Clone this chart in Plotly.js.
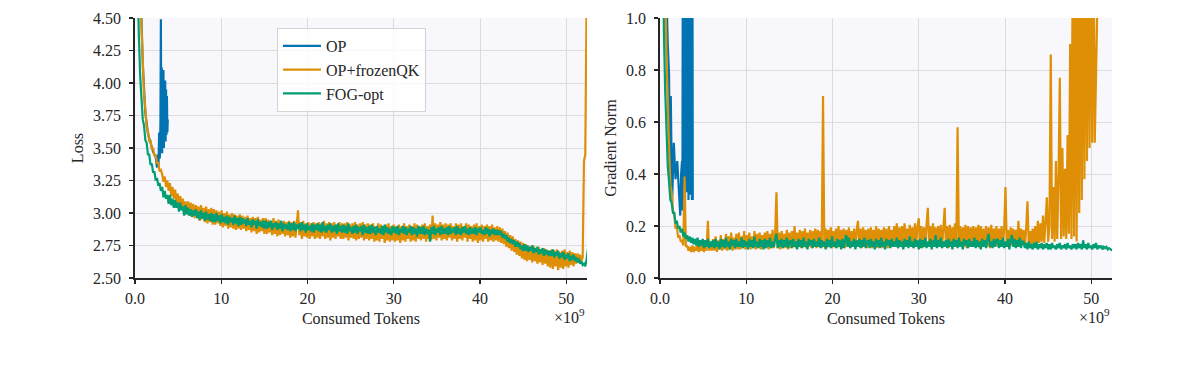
<!DOCTYPE html>
<html><head><meta charset="utf-8">
<script src="https://cdn.plot.ly/plotly-3.0.1.min.js"></script>
<style>html,body{margin:0;padding:0;background:#fff}#chart{width:1200px;height:368px}</style>
</head><body><div id="chart"></div>
<script>
// Consumed tokens (units of 1e9): sampling grid of the logged runs
const TOKENS_START = 0.15;
const TOKENS_STEP = 0.15;

const seriesNames = ["OP", "OP+frozenQK", "FOG-opt"];

// ---- Loss ----
const opLossTokens = [0.3, 0.6, 0.9, 1.2, 1.5, 1.8, 2.1, 2.4, 2.55, 2.65, 2.72, 2.8, 2.88, 2.95, 3.0, 3.05, 3.1, 3.15, 3.2, 3.25, 3.3, 3.35, 3.4, 3.45, 3.5, 3.55, 3.6, 3.65, 3.7, 3.75, 3.8];
const opLoss = [5.5, 4.8, 4.15, 3.77, 3.61, 3.54, 3.47, 3.43, 3.35, 3.45, 3.36, 3.62, 3.42, 3.7, 4.49, 3.5, 4.12, 3.46, 4.05, 3.52, 4.1, 3.5, 3.98, 3.56, 4.02, 3.55, 3.95, 3.6, 3.9, 3.62, 3.72];

const frozenLoss = [
  6.00, 5.50, 5.10, 4.80, 4.45, 4.17, 3.90, 3.80, 3.66, 3.63, 3.55, 3.56, 3.49, 3.50, 3.44, 3.45, 3.38, 3.39, 3.32, 3.33,
  3.30, 3.24, 3.28, 3.20, 3.25, 3.17, 3.23, 3.13, 3.20, 3.11, 3.18, 3.08, 3.15, 3.05, 3.13, 3.03, 3.11, 3.00, 3.09, 2.99,
  3.09, 2.98, 3.08, 2.97, 3.07, 2.96, 3.06, 2.97, 3.05, 2.94, 3.06, 2.95, 3.04, 2.93, 3.05, 2.92, 3.03, 2.93, 3.04, 2.91,
  3.03, 2.91, 3.02, 2.92, 3.01, 2.90, 3.02, 2.89, 3.00, 2.90, 3.01, 2.88, 2.99, 2.89, 3.00, 2.88, 2.99, 2.87, 2.98, 2.88,
  2.99, 2.87, 2.98, 2.88, 2.97, 2.86, 2.98, 2.87, 2.96, 2.85, 2.97, 2.86, 2.96, 2.84, 2.97, 2.85, 2.95, 2.86, 2.96, 2.84,
  2.96, 2.84, 2.95, 2.85, 2.94, 2.83, 2.96, 2.84, 2.94, 2.82, 2.95, 2.83, 2.93, 2.84, 2.94, 2.82, 2.93, 2.83, 2.94, 2.81,
  2.93, 2.82, 2.94, 2.81, 2.92, 3.02, 2.83, 2.93, 2.80, 2.94, 2.82, 2.92, 2.81, 2.93, 2.80, 2.92, 2.82, 2.93, 2.80, 2.92,
  2.81, 2.93, 2.80, 2.92, 2.82, 2.94, 2.80, 2.92, 2.81, 2.93, 2.79, 2.92, 2.81, 2.93, 2.80, 2.91, 2.82, 2.93, 2.80, 2.92,
  2.80, 2.92, 2.81, 2.93, 2.79, 2.91, 2.81, 2.92, 2.80, 2.93, 2.79, 2.91, 2.80, 2.92, 2.81, 2.93, 2.79, 2.91, 2.80, 2.92,
  2.79, 2.91, 2.80, 2.92, 2.78, 2.90, 2.79, 2.92, 2.78, 2.91, 2.80, 2.90, 2.77, 2.91, 2.79, 2.92, 2.78, 2.90, 2.79, 2.91,
  2.78, 2.90, 2.79, 2.91, 2.77, 2.90, 2.79, 2.92, 2.78, 2.90, 2.80, 2.91, 2.78, 2.90, 2.79, 2.92, 2.78, 2.91, 2.80, 2.90,
  2.79, 2.91, 2.80, 2.92, 2.78, 2.90, 2.80, 2.91, 2.79, 2.98, 2.80, 2.92, 2.79, 2.91, 2.81, 2.93, 2.79, 2.91, 2.80, 2.92,
  2.79, 2.91, 2.81, 2.92, 2.79, 2.90, 2.80, 2.92, 2.78, 2.91, 2.80, 2.92, 2.79, 2.90, 2.81, 2.92, 2.78, 2.91, 2.80, 2.90,
  2.78, 2.91, 2.79, 2.92, 2.77, 2.90, 2.79, 2.91, 2.78, 2.90, 2.80, 2.91, 2.78, 2.90, 2.79, 2.91, 2.78, 2.89, 2.79, 2.90,
  2.78, 2.89, 2.77, 2.88, 2.76, 2.86, 2.74, 2.85, 2.73, 2.83, 2.71, 2.82, 2.70, 2.80, 2.68, 2.79, 2.67, 2.78, 2.65, 2.77,
  2.64, 2.76, 2.63, 2.75, 2.64, 2.74, 2.62, 2.75, 2.63, 2.73, 2.61, 2.74, 2.62, 2.72, 2.60, 2.73, 2.61, 2.72, 2.59, 2.71,
  2.58, 2.72, 2.57, 2.71, 2.59, 2.72, 2.56, 2.70, 2.58, 2.71, 2.57, 2.72, 2.59, 2.70, 2.58, 2.71, 2.60, 2.70, 2.59, 2.69,
  2.61, 2.69, 2.62, 2.68, 2.63, 2.66, 3.40, 3.45, 4.60, 5.50
];

const fogLoss = [
  5.20, 4.70, 4.36, 4.05, 3.90, 3.72, 3.67, 3.56, 3.54, 3.45, 3.45, 3.37, 3.38, 3.31, 3.32, 3.25, 3.27, 3.21, 3.23, 3.17,
  3.20, 3.12, 3.17, 3.11, 3.14, 3.07, 3.14, 3.06, 3.11, 3.04, 3.10, 3.04, 3.08, 3.01, 3.08, 3.02, 3.05, 2.98, 3.06, 2.99,
  3.04, 2.98, 3.03, 2.97, 3.02, 2.98, 3.03, 2.96, 3.01, 2.95, 3.02, 2.96, 3.00, 2.94, 3.01, 2.95, 2.99, 2.94, 3.00, 2.93,
  2.99, 2.93, 3.00, 2.94, 2.98, 2.92, 2.99, 2.93, 2.97, 2.92, 2.98, 2.91, 2.97, 2.93, 2.96, 2.91, 2.98, 2.92, 2.96, 2.90,
  2.97, 2.91, 2.96, 2.92, 2.95, 2.90, 2.96, 2.91, 2.94, 2.89, 2.95, 2.91, 2.94, 2.88, 2.95, 2.90, 2.93, 2.89, 2.94, 2.88,
  2.94, 2.88, 2.93, 2.89, 2.94, 2.87, 2.92, 2.89, 2.93, 2.87, 2.92, 2.88, 2.94, 2.86, 2.92, 2.88, 2.91, 2.87, 2.93, 2.86,
  2.92, 2.87, 2.93, 2.86, 2.91, 2.88, 2.92, 2.86, 2.93, 2.87, 2.91, 2.85, 2.92, 2.87, 2.90, 2.86, 2.92, 2.85, 2.91, 2.87,
  2.92, 2.86, 2.91, 2.85, 2.93, 2.86, 2.90, 2.85, 2.91, 2.87, 2.92, 2.85, 2.90, 2.86, 2.91, 2.84, 2.92, 2.86, 2.90, 2.85,
  2.91, 2.85, 2.90, 2.84, 2.92, 2.86, 2.89, 2.84, 2.90, 2.85, 2.91, 2.84, 2.89, 2.86, 2.90, 2.83, 2.91, 2.85, 2.89, 2.84,
  2.90, 2.84, 2.91, 2.85, 2.89, 2.83, 2.90, 2.85, 2.88, 2.84, 2.90, 2.83, 2.91, 2.85, 2.89, 2.84, 2.88, 2.83, 2.90, 2.85,
  2.89, 2.84, 2.90, 2.83, 2.88, 2.85, 2.90, 2.84, 2.89, 2.83, 2.88, 2.85, 2.90, 2.83, 2.89, 2.84, 2.88, 2.82, 2.90, 2.84,
  2.89, 2.84, 2.90, 2.83, 2.88, 2.84, 2.87, 2.78, 2.89, 2.84, 2.90, 2.83, 2.88, 2.85, 2.89, 2.83, 2.90, 2.84, 2.88, 2.84,
  2.89, 2.83, 2.90, 2.84, 2.88, 2.85, 2.89, 2.83, 2.90, 2.84, 2.88, 2.83, 2.89, 2.85, 2.90, 2.84, 2.88, 2.83, 2.89, 2.84,
  2.88, 2.84, 2.89, 2.83, 2.88, 2.85, 2.89, 2.84, 2.87, 2.83, 2.89, 2.84, 2.88, 2.82, 2.87, 2.84, 2.88, 2.83, 2.87, 2.83,
  2.87, 2.83, 2.86, 2.81, 2.84, 2.80, 2.83, 2.78, 2.81, 2.77, 2.80, 2.76, 2.79, 2.74, 2.78, 2.74, 2.77, 2.72, 2.75, 2.71,
  2.76, 2.71, 2.75, 2.70, 2.74, 2.71, 2.75, 2.69, 2.73, 2.70, 2.74, 2.68, 2.72, 2.69, 2.73, 2.67, 2.72, 2.68, 2.71, 2.67,
  2.71, 2.67, 2.72, 2.66, 2.70, 2.67, 2.71, 2.65, 2.69, 2.66, 2.70, 2.64, 2.68, 2.65, 2.69, 2.63, 2.67, 2.64, 2.68, 2.63,
  2.66, 2.62, 2.65, 2.61, 2.63, 2.60, 2.61, 2.59, 2.64, 2.72
];

// ---- Gradient norm ----
const opGradTokens = [0.3, 0.6, 0.9, 1.05, 1.15, 1.25, 1.4, 1.6, 1.8, 2.0, 2.2, 2.35, 2.45,
  2.55, 2.6, 2.65, 2.7, 2.75, 2.8, 2.85, 2.9, 2.95, 3.0, 3.05, 3.1, 3.15, 3.2, 3.25, 3.3, 3.35, 3.4, 3.45, 3.5, 3.55, 3.6, 3.65, 3.7, 3.75, 3.8];
const opGrad = [2.0, 1.3, 0.9, 0.78, 0.35, 0.7, 0.29, 0.52, 0.38, 0.45, 0.33, 0.24, 0.4,
  0.45, 0.26, 1.5, 0.28, 1.6, 0.35, 1.5, 0.3, 1.7, 0.4, 1.6, 0.33, 1.5, 0.38, 1.8, 0.3, 1.6, 0.42, 1.7, 0.32, 1.5, 0.36, 1.6, 0.3, 1.5, 0.3];

const frozenGrad = [
  3.0, 2.2, 1.6, 1.15, 0.86, 0.63, 0.50, 0.36, 0.33, 0.26, 0.25, 0.19, 0.20, 0.155, 0.165, 0.14, 0.145, 0.125, 0.39, 0.12,
  0.125, 0.105, 0.12, 0.10, 0.125, 0.10, 0.12, 0.105, 0.13, 0.10, 0.125, 0.105, 0.13, 0.10, 0.135, 0.105, 0.22, 0.105, 0.14, 0.105,
  0.15, 0.105, 0.16, 0.10, 0.145, 0.11, 0.165, 0.105, 0.15, 0.11, 0.17, 0.105, 0.16, 0.11, 0.175, 0.105, 0.155, 0.11, 0.17, 0.11,
  0.175, 0.11, 0.16, 0.115, 0.18, 0.11, 0.165, 0.115, 0.175, 0.11, 0.16, 0.115, 0.18, 0.11, 0.17, 0.115, 0.175, 0.11, 0.165, 0.115,
  0.175, 0.115, 0.18, 0.11, 0.17, 0.115, 0.185, 0.115, 0.17, 0.33, 0.115, 0.175, 0.11, 0.18, 0.115, 0.17, 0.115, 0.185, 0.11, 0.175,
  0.115, 0.18, 0.12, 0.20, 0.115, 0.175, 0.12, 0.185, 0.115, 0.18, 0.12, 0.19, 0.115, 0.175, 0.12, 0.185, 0.115, 0.18, 0.12, 0.19,
  0.115, 0.185, 0.12, 0.18, 0.115, 0.70, 0.12, 0.19, 0.115, 0.185, 0.12, 0.195, 0.115, 0.18, 0.12, 0.19, 0.115, 0.20, 0.12, 0.185,
  0.12, 0.19, 0.115, 0.185, 0.12, 0.195, 0.115, 0.18, 0.12, 0.19, 0.115, 0.185, 0.22, 0.12, 0.19, 0.115, 0.195, 0.12, 0.185, 0.115,
  0.19, 0.12, 0.195, 0.115, 0.185, 0.12, 0.20, 0.115, 0.19, 0.12, 0.185, 0.115, 0.195, 0.12, 0.19, 0.115, 0.20, 0.12, 0.185, 0.12,
  0.20, 0.12, 0.21, 0.115, 0.195, 0.12, 0.20, 0.115, 0.21, 0.12, 0.19, 0.125, 0.205, 0.12, 0.195, 0.115, 0.21, 0.12, 0.20, 0.23,
  0.12, 0.20, 0.115, 0.195, 0.12, 0.205, 0.27, 0.12, 0.20, 0.115, 0.21, 0.12, 0.195, 0.125, 0.20, 0.12, 0.205, 0.115, 0.195, 0.27,
  0.12, 0.20, 0.115, 0.205, 0.12, 0.195, 0.125, 0.21, 0.12, 0.58, 0.12, 0.20, 0.125, 0.195, 0.12, 0.205, 0.115, 0.20, 0.12, 0.195,
  0.12, 0.20, 0.125, 0.195, 0.12, 0.205, 0.115, 0.20, 0.12, 0.19, 0.125, 0.20, 0.12, 0.195, 0.115, 0.205, 0.12, 0.19, 0.125, 0.20,
  0.12, 0.19, 0.125, 0.20, 0.12, 0.19, 0.35, 0.125, 0.185, 0.12, 0.195, 0.125, 0.19, 0.12, 0.185, 0.125, 0.22, 0.12, 0.19, 0.125,
  0.185, 0.12, 0.19, 0.295, 0.125, 0.18, 0.13, 0.19, 0.125, 0.20, 0.13, 0.22, 0.135, 0.21, 0.14, 0.24, 0.135, 0.23, 0.31, 0.14,
  0.20, 0.86, 0.15, 0.35, 0.14, 0.45, 0.15, 0.38, 0.77, 0.15, 0.50, 0.16, 0.42, 0.15, 0.55, 0.17, 0.90, 0.15, 1.30, 0.16,
  1.40, 0.14, 1.50, 0.25, 1.40, 0.30, 1.50, 0.38, 1.60, 0.45, 1.50, 0.50, 1.60, 0.52, 1.50, 0.52, 3.00, 2.80, 3.20, 3.00,
  3.10, 2.90, 3.30, 3.00, 3.20, 2.90, 3.40, 3.10, 3.30, 3.20
];

const fogGrad = [
  2.0, 1.3, 0.95, 0.72, 0.57, 0.43, 0.37, 0.30, 0.29, 0.25, 0.25, 0.21, 0.22, 0.19, 0.20, 0.175, 0.19, 0.16, 0.175, 0.15,
  0.165, 0.14, 0.16, 0.135, 0.155, 0.13, 0.15, 0.125, 0.155, 0.12, 0.145, 0.125, 0.15, 0.115, 0.145, 0.12, 0.15, 0.115, 0.14, 0.12,
  0.145, 0.115, 0.15, 0.12, 0.14, 0.11, 0.15, 0.12, 0.145, 0.115, 0.155, 0.12, 0.14, 0.11, 0.15, 0.125, 0.145, 0.115, 0.15, 0.12,
  0.14, 0.12, 0.155, 0.115, 0.145, 0.12, 0.14, 0.11, 0.15, 0.12, 0.145, 0.115, 0.16, 0.12, 0.14, 0.115, 0.15, 0.12, 0.145, 0.11,
  0.15, 0.115, 0.145, 0.12, 0.155, 0.115, 0.14, 0.12, 0.15, 0.17, 0.115, 0.145, 0.12, 0.15, 0.115, 0.145, 0.12, 0.155, 0.115, 0.14,
  0.145, 0.115, 0.15, 0.12, 0.14, 0.11, 0.15, 0.12, 0.145, 0.115, 0.155, 0.12, 0.14, 0.11, 0.15, 0.125, 0.145, 0.115, 0.15, 0.12,
  0.14, 0.12, 0.155, 0.115, 0.145, 0.12, 0.14, 0.11, 0.15, 0.12, 0.145, 0.115, 0.16, 0.12, 0.14, 0.115, 0.15, 0.12, 0.145, 0.11,
  0.15, 0.115, 0.145, 0.165, 0.12, 0.155, 0.115, 0.14, 0.12, 0.15, 0.11, 0.145, 0.12, 0.15, 0.115, 0.145, 0.12, 0.155, 0.115, 0.14,
  0.145, 0.115, 0.15, 0.12, 0.14, 0.11, 0.15, 0.12, 0.145, 0.115, 0.155, 0.12, 0.14, 0.11, 0.15, 0.125, 0.145, 0.115, 0.15, 0.12,
  0.14, 0.12, 0.155, 0.115, 0.145, 0.12, 0.14, 0.11, 0.15, 0.12, 0.145, 0.115, 0.16, 0.12, 0.14, 0.115, 0.15, 0.12, 0.145, 0.11,
  0.15, 0.115, 0.145, 0.12, 0.155, 0.115, 0.14, 0.12, 0.15, 0.11, 0.145, 0.12, 0.165, 0.115, 0.145, 0.12, 0.155, 0.115, 0.14, 0.12,
  0.145, 0.115, 0.15, 0.12, 0.14, 0.11, 0.15, 0.12, 0.145, 0.115, 0.155, 0.12, 0.14, 0.11, 0.15, 0.125, 0.145, 0.115, 0.15, 0.12,
  0.14, 0.12, 0.155, 0.115, 0.145, 0.12, 0.14, 0.11, 0.15, 0.12, 0.145, 0.115, 0.15, 0.17, 0.12, 0.14, 0.115, 0.15, 0.12, 0.145,
  0.15, 0.115, 0.145, 0.12, 0.155, 0.115, 0.14, 0.12, 0.15, 0.11, 0.145, 0.165, 0.12, 0.15, 0.115, 0.145, 0.12, 0.155, 0.115, 0.14,
  0.14, 0.115, 0.135, 0.11, 0.14, 0.115, 0.13, 0.11, 0.135, 0.115, 0.14, 0.11, 0.13, 0.115, 0.135, 0.11, 0.13, 0.115, 0.135, 0.11,
  0.13, 0.11, 0.135, 0.115, 0.125, 0.11, 0.13, 0.115, 0.135, 0.11, 0.125, 0.115, 0.13, 0.11, 0.135, 0.115, 0.125, 0.11, 0.13, 0.115,
  0.13, 0.11, 0.135, 0.115, 0.13, 0.11, 0.145, 0.115, 0.13, 0.11, 0.135, 0.115, 0.125, 0.11, 0.13, 0.115, 0.135, 0.11, 0.125, 0.115,
  0.125, 0.11, 0.12, 0.115, 0.12, 0.11, 0.115, 0.11, 0.108, 0.107
];

// ---- Axes ticks ----
const xTickVals = [0, 10, 20, 30, 40, 50];
const xTickText = ["0.0", "10", "20", "30", "40", "50"];
const lossTickVals = [2.5, 2.75, 3.0, 3.25, 3.5, 3.75, 4.0, 4.25, 4.5];
const gradTickVals = [0, 0.2, 0.4, 0.6, 0.8, 1.0];

const COLORS = ["#0173b2", "#de8f05", "#029e73"];
const LW = 2.2;
const FONT = "Liberation Serif";
const INK = "#262626";
const TXT = {family: FONT, size: 16, color: INK};

const traces = [
  {x: opLossTokens, y: opLoss, name: seriesNames[0], type: "scatter", mode: "lines",
   line: {color: COLORS[0], width: LW}, xaxis: "x", yaxis: "y"},
  {x0: TOKENS_START, dx: TOKENS_STEP, y: frozenLoss, name: seriesNames[1], type: "scatter", mode: "lines",
   line: {color: COLORS[1], width: LW}, xaxis: "x", yaxis: "y"},
  {x0: TOKENS_START, dx: TOKENS_STEP, y: fogLoss, name: seriesNames[2], type: "scatter", mode: "lines",
   line: {color: COLORS[2], width: LW}, xaxis: "x", yaxis: "y"},
  {x: opGradTokens, y: opGrad, name: seriesNames[0], type: "scatter", mode: "lines", showlegend: false,
   line: {color: COLORS[0], width: LW}, xaxis: "x2", yaxis: "y2"},
  {x0: TOKENS_START, dx: TOKENS_STEP, y: frozenGrad, name: seriesNames[1], type: "scatter", mode: "lines", showlegend: false,
   line: {color: COLORS[1], width: LW}, xaxis: "x2", yaxis: "y2"},
  {x0: TOKENS_START, dx: TOKENS_STEP, y: fogGrad, name: seriesNames[2], type: "scatter", mode: "lines", showlegend: false,
   line: {color: COLORS[2], width: LW}, xaxis: "x2", yaxis: "y2"}
];

function xAxis(domain, anchor) {
  return {
    domain: domain, anchor: anchor, range: [0, 52.4], autorange: false,
    tickmode: "array", tickvals: xTickVals, ticktext: xTickText,
    ticks: "outside", ticklen: 4, tickwidth: 1.2, tickcolor: INK,
    tickfont: TXT, ticklabelstandoff: 1,
    showline: true, linecolor: INK, linewidth: 1.8,
    showgrid: true, gridcolor: "#dcdcdf", gridwidth: 1, zeroline: false,
    automargin: false,
    title: {text: "Consumed Tokens", font: TXT, standoff: 7}
  };
}
function yAxis(domain, anchor, range, vals, fmt, title) {
  return {
    domain: domain, anchor: anchor, range: range, autorange: false,
    tickmode: "array", tickvals: vals, tickformat: fmt,
    ticks: "outside", ticklen: 4, tickwidth: 1.2, tickcolor: INK,
    tickfont: TXT, ticklabelstandoff: 5,
    showline: true, linecolor: INK, linewidth: 1.8,
    showgrid: true, gridcolor: "#dcdcdf", gridwidth: 1, zeroline: false,
    automargin: false,
    title: {text: title, font: TXT, standoff: 5}
  };
}

const layout = {
  width: 1200, height: 368,
  margin: {l: 135, r: 88, t: 18, b: 90, pad: 0},
  paper_bgcolor: "#ffffff", plot_bgcolor: "#f8f8fc",
  font: TXT,
  showlegend: true,
  legend: {
    x: 0.1453, y: 0.962, xanchor: "left", yanchor: "top",
    bgcolor: "rgba(255,255,255,0.8)", bordercolor: "#d4d4d4", borderwidth: 1,
    font: {family: FONT, size: 16, color: INK}, itemwidth: 38
  },
  xaxis: xAxis([0, 0.46264], "y"),
  yaxis: yAxis([0, 1], "x", [2.5, 4.5], lossTickVals, ".2f", "Loss"),
  xaxis2: xAxis([0.53736, 1], "y2"),
  yaxis2: yAxis([0, 1], "x2", [0, 1], gradTickVals, ".1f", "Gradient Norm"),
  annotations: [
    {xref: "paper", yref: "paper", x: 0.46264, y: -0.146, xanchor: "right", yanchor: "middle",
     text: "×10<sup>9</sup>", showarrow: false, font: TXT},
    {xref: "paper", yref: "paper", x: 1, y: -0.146, xanchor: "right", yanchor: "middle",
     text: "×10<sup>9</sup>", showarrow: false, font: TXT}
  ]
};

Plotly.newPlot("chart", traces, layout, {staticPlot: true, displayModeBar: false});
</script>
</body></html>
